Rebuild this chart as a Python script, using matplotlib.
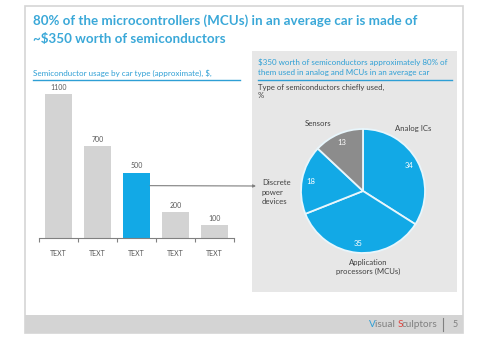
import numpy as np
import matplotlib.pyplot as plt
from matplotlib.patches import Rectangle

plt.rcParams['font.family'] = ['Lato', 'DejaVu Sans']

# bar chart data
car_types = ['TEXT', 'TEXT', 'TEXT', 'TEXT', 'TEXT']
usage = [1100, 700, 500, 200, 100]
highlight = 2

# pie chart data
seg_names = ['Analog ICs', 'Application\nprocessors (MCUs)', 'Discrete\npower\ndevices', 'Sensors']
seg_share = [34, 35, 18, 13]

blue = '#12A9E6'
title_blue = '#3AA8D8'
dark = '#404040'

fig = plt.figure(figsize=(4.82, 3.45), dpi=100)
W, H = 482, 345

# overlay in pixel coords for the slide decoration
ov = fig.add_axes([0, 0, 1, 1])
ov.set_xlim(0, W)
ov.set_ylim(H, 0)
ov.axis('off')

ov.add_patch(Rectangle((25, 6), 438, 327, fill=False, ec='#D5D5D5', lw=1.2))
ov.add_patch(Rectangle((25, 315), 438, 18, color='#D4D4D4', lw=0))
ov.add_patch(Rectangle((252, 51), 205, 241, color='#E7E7E7', lw=0))

ov.text(33, 21, '80% of the microcontrollers (MCUs) in an average car is made of',
        fontsize=9.6, fontweight='bold', color=title_blue, va='center')
ov.text(33, 39, '~$350 worth of semiconductors',
        fontsize=9.6, fontweight='bold', color=title_blue, va='center')

ov.text(33, 73, 'Semiconductor usage by car type (approximate), $,', fontsize=5.8,
        color='#2E9FD5', va='center')
ov.plot([33, 240], [79.5, 79.5], color='#2E9FD5', lw=1)

ov.text(258, 62, '$350 worth of semiconductors approximately 80% of', fontsize=5.8,
        color='#2E9FD5', va='center')
ov.text(258, 72, 'them used in analog and MCUs in an average car', fontsize=5.8,
        color='#2E9FD5', va='center')
ov.plot([258, 452], [79.5, 79.5], color='#2E9FD5', lw=1)
ov.text(258, 87, 'Type of semiconductors chiefly used,', fontsize=5.6, color=dark, va='center')
ov.text(258, 96, '%', fontsize=5.6, color=dark, va='center')

# footer, chained right to left
t4 = ov.text(437, 329, 'culptors', fontsize=7.2, color='#808080', va='bottom', ha='right')
t3 = ov.annotate('S', xy=(0, 0), xycoords=t4, xytext=(1.2, 0), textcoords='offset points',
                 fontsize=7.2, color='#E0403A', va='bottom', ha='right')
t2 = ov.annotate('isual ', xy=(0, 0), xycoords=t3, fontsize=7.2, color='#808080', va='bottom', ha='right')
ov.annotate('V', xy=(0, 0), xycoords=t2, xytext=(0.8, 0), textcoords='offset points',
            fontsize=7.2, color='#2E9FD5', va='bottom', ha='right')
ov.plot([443, 443], [318, 331], color='#808080', lw=0.8)
ov.text(455, 324.5, '5', fontsize=6.5, color='#808080', va='center', ha='center')

# bar chart
bx = fig.add_axes([39 / W, 1 - 238 / H, 195 / W, 163.6 / H])
bx.set_facecolor('none')
x = np.arange(len(usage))
colors = [blue if i == highlight else '#D3D3D3' for i in x]
bars = bx.bar(x, usage, width=0.69, color=colors, edgecolor='none')
for xi, v in zip(x, usage):
    bx.text(xi, v + 25, str(v), ha='center', va='bottom', fontsize=5, color='#595959')
bx.set_xlim(-0.5, len(usage) - 0.5)
bx.set_ylim(0, 1250)
for s in ['top', 'right', 'left']:
    bx.spines[s].set_visible(False)
bx.spines['bottom'].set_color('#808080')
bx.spines['bottom'].set_linewidth(0.8)
bx.set_yticks([])
bx.set_xticks(x)
bx.set_xticklabels(car_types, fontsize=5, color='#595959')
bx.tick_params(axis='x', which='major', length=0, pad=9)
bx.set_xticks(np.arange(len(usage) + 1) - 0.5, minor=True)
bx.tick_params(axis='x', which='minor', length=3, direction='out', color='#808080', width=0.8)

# connector from highlighted bar to the pie
bx.annotate('', xy=(256, 186), xycoords=ov.transData,
            xytext=(highlight + 0.345, 400), textcoords='data',
            arrowprops=dict(arrowstyle='-|>', color='#7F7F7F', lw=0.8,
                            mutation_scale=4, shrinkA=0, shrinkB=0))

# pie chart
r = 62
px = fig.add_axes([(363 - r) / W, 1 - (191 + r) / H, 2 * r / W, 2 * r / H])
wedges, _, autotexts = px.pie(seg_share, startangle=90, counterclock=False,
                              colors=[blue, blue, blue, '#8C8C8C'],
                              wedgeprops=dict(edgecolor='#E8F6FC', linewidth=1.3),
                              autopct=lambda p: f'{p:.0f}', pctdistance=0.85,
                              textprops=dict(color='white', fontsize=5.5))
px.set_xlim(-1, 1)
px.set_ylim(-1, 1)
px.set_aspect('equal')

label_pos = [(413, 129, 'center'), (368, 267, 'center'), (262, 192, 'left'), (318, 123, 'center')]
for name, (lx, ly, ha) in zip(seg_names, label_pos):
    ov.text(lx, ly, name, fontsize=5.6, color=dark, ha=ha, va='center', linespacing=1.45)

fig.savefig('out.png', dpi=100)
